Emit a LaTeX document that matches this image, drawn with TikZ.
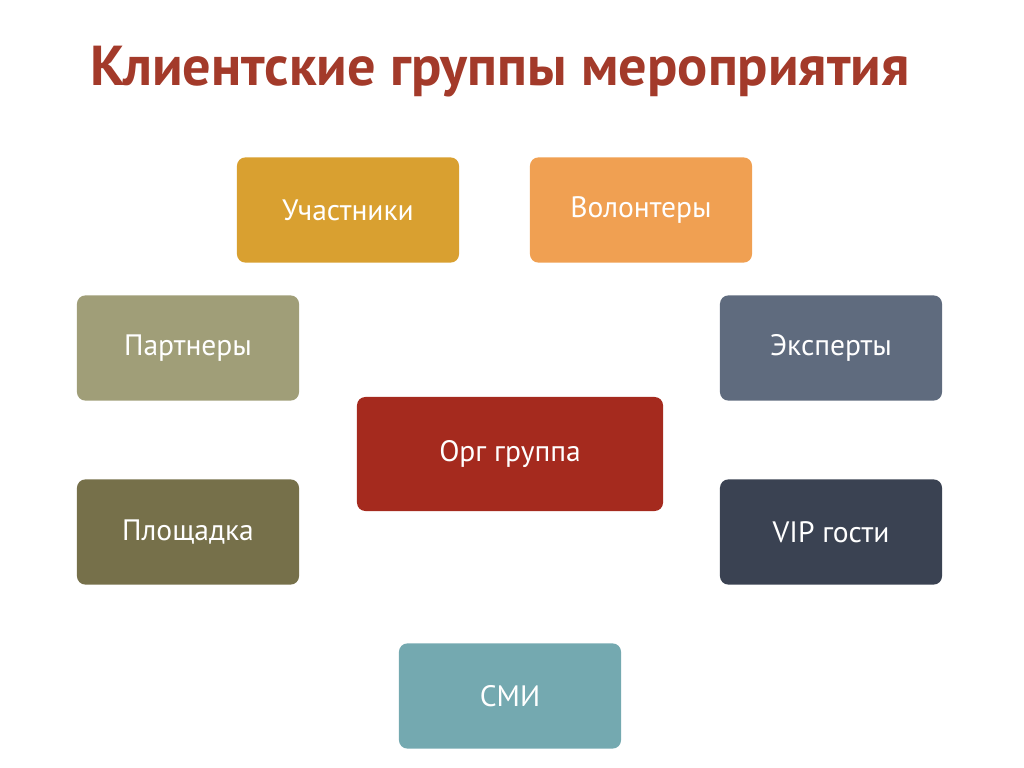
\documentclass[tikz,border=0pt]{standalone}
\usepackage{fontspec}
\setmainfont{PT Sans}
\usetikzlibrary{positioning}
\definecolor{cUch}{HTML}{D9A030}
\definecolor{cVol}{HTML}{F0A052}
\definecolor{cPar}{HTML}{A09E78}
\definecolor{cEks}{HTML}{5F6B7E}
\definecolor{cOrg}{HTML}{A52A1E}
\definecolor{cPlo}{HTML}{76704A}
\definecolor{cVip}{HTML}{3A4252}
\definecolor{cSmi}{HTML}{74A9B0}
\definecolor{cTitle}{HTML}{A33A2A}
\tikzstyle{group} = [text=white, rounded corners=6pt, minimum width=5.55cm,
  minimum height=2.63cm, font=\fontsize{21}{24}\selectfont]
\tikzstyle{biggroup} = [group, minimum width=7.65cm, minimum height=2.85cm]
\newcommand{\grp}[4]{node (#1) [group, fill=#2] at #3 {#4}}

\begin{document}
\begin{tikzpicture}[x=0.025cm,y=-0.025cm]
    \useasboundingbox (0,0) rectangle (1024,768);

    % Title
    \node (title) [text=cTitle, font=\fontsize{40}{44}\selectfont\bfseries]
      at (500,72) {Клиентские группы мероприятия};

    % Groups
    \path \grp{uch}{cUch}{(348,210)}{Участники};
    \path \grp{vol}{cVol}{(641,210)}{Волонтеры};
    \path \grp{par}{cPar}{(188,348)}{Партнеры};
    \path \grp{eks}{cEks}{(831,348)}{Эксперты};
    \node (org) [biggroup, fill=cOrg] at (510,454) {Орг группа};
    \path \grp{plo}{cPlo}{(188,532)}{Площадка};
    \path \grp{vip}{cVip}{(831,532)}{VIP гости};
    \path \grp{smi}{cSmi}{(510,696)}{СМИ};

  \end{tikzpicture}
\end{document}
